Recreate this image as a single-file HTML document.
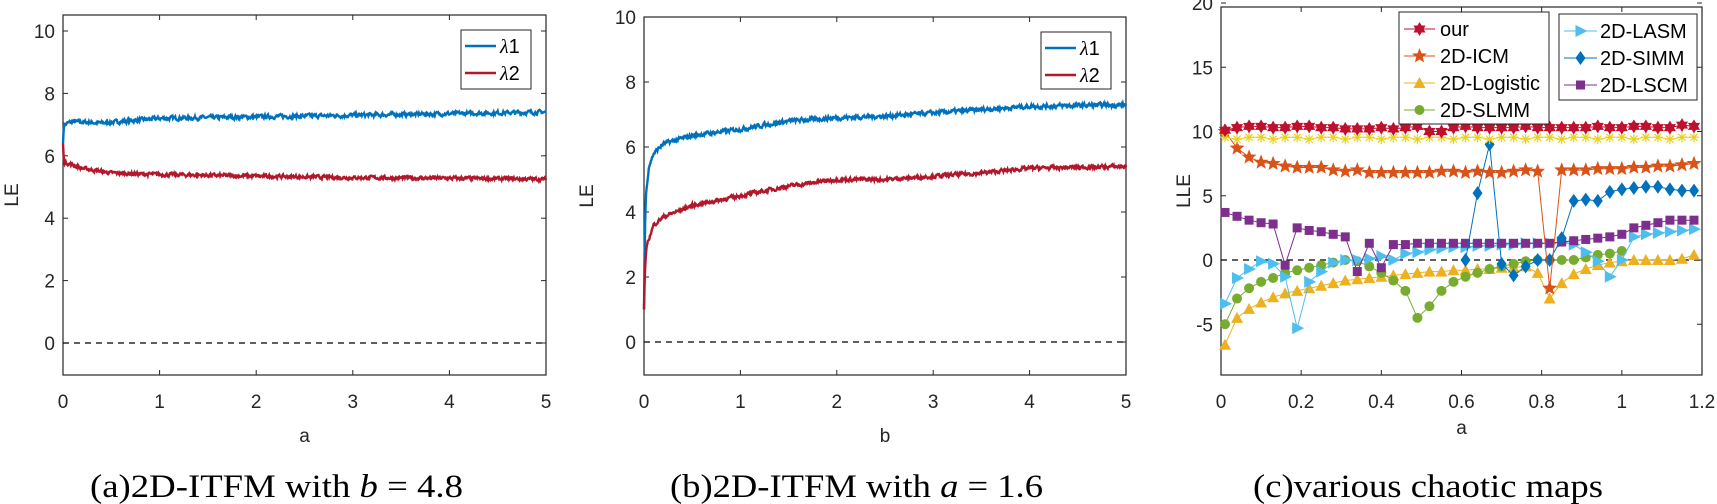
<!DOCTYPE html>
<html><head><meta charset="utf-8"><style>
html,body{margin:0;padding:0;background:#fff;}
svg{display:block;font-family:"Liberation Sans",sans-serif;}
.t{font-size:19px;fill:#262626;}
.lg{font-size:20px;fill:#000;}
.cap{font-family:"Liberation Serif",serif;font-size:33px;fill:#000;}
</style></head><body>
<svg id="s" width="1717" height="504" viewBox="0 0 1717 504" xmlns="http://www.w3.org/2000/svg"></svg>
<script>
const S=document.getElementById('s');let h='';
let seed=7;function rnd(){seed=(seed*16807)%2147483647;return seed/2147483647;}
function axes(L,R,T,B,xt,yt,fx,fy,xlab,ylab,ylx){
 h+=`<rect x="${L}" y="${T}" width="${R-L}" height="${B-T}" fill="#fff" stroke="#262626" stroke-width="1.2"/>`;
 xt.forEach(v=>{const x=fx(v);h+=`<line x1="${x}" y1="${B}" x2="${x}" y2="${B-5}" stroke="#262626"/><line x1="${x}" y1="${T}" x2="${x}" y2="${T+5}" stroke="#262626"/><text class="t" x="${x}" y="${B+33}" text-anchor="middle">${v}</text>`;});
 yt.forEach(v=>{const y=fy(v);h+=`<line x1="${L}" y1="${y}" x2="${L+5}" y2="${y}" stroke="#262626"/><line x1="${R}" y1="${y}" x2="${R-5}" y2="${y}" stroke="#262626"/><text class="t" x="${L-8}" y="${y+7}" text-anchor="end">${v}</text>`;});
 h+=`<text class="t" x="${(L+R)/2}" y="${B+67}" text-anchor="middle">${xlab}</text>`;
 h+=`<text class="t" font-size="20" transform="translate(${ylx},${(T+B)/2}) rotate(-90)" text-anchor="middle">${ylab}</text>`;
 h+=`<line x1="${L}" y1="${fy(0)}" x2="${R}" y2="${fy(0)}" stroke="#000" stroke-width="1.2" stroke-dasharray="6,5"/>`;
}
function interp(pts){return x=>{for(let i=1;i<pts.length;i++){if(x<=pts[i][0]){const a=pts[i-1],b=pts[i];return a[1]+(b[1]-a[1])*(x-a[0])/(b[0]-a[0]);}}return pts[pts.length-1][1];};}
function noisy(fx,fy,f,xmax,col,amp){let p=[];const N=900;let prev=0;for(let i=0;i<=N;i++){const x=xmax*i/N;prev=prev*0.5+(rnd()-0.5)*amp;p.push(fx(x).toFixed(1)+','+fy(f(x)+(i<3?0:prev)).toFixed(1));}
 h+=`<polyline points="${p.join(' ')}" fill="none" stroke="${col}" stroke-width="2.4"/>`;}
function legend2(x,y,w,hh,items){h+=`<rect x="${x}" y="${y}" width="${w}" height="${hh}" fill="#fff" stroke="#262626"/>`;
 items.forEach((it,i)=>{const yy=y+16+i*27;h+=`<line x1="${x+4}" y1="${yy}" x2="${x+35}" y2="${yy}" stroke="${it[1]}" stroke-width="2.5"/><text class="lg" x="${x+39}" y="${yy+7}"><tspan font-family="Liberation Serif" font-style="italic">λ</tspan>${it[0]}</text>`;});}
// Panel a
{const L=63,R=546,T=15,B=375;const fx=v=>L+(v/5)*(R-L);const fy=v=>343-v*31.2;
axes(L,R,T,B,[0,1,2,3,4,5],[0,2,4,6,8,10],fx,fy,'a','LE',18);
noisy(fx,fy,interp([[0,6.4],[0.01,7.0],[0.1,7.1],[0.4,7.05],[1,7.2],[2,7.25],[3,7.3],[4,7.35],[5,7.4]]),5,'#0072BD',0.1);
noisy(fx,fy,interp([[0,6.4],[0.01,5.8],[0.2,5.6],[0.5,5.45],[1,5.4],[2,5.35],[3,5.3],[4,5.28],[5,5.25]]),5,'#B2182B',0.09);
legend2(461,30,70,59,[['1','#0072BD'],['2','#B2182B']]);}
// Panel b
{const L=644,R=1126,T=17,B=375;const fx=v=>L+(v/5)*(R-L);const fy=v=>342-v*32.5;
axes(L,R,T,B,[0,1,2,3,4,5],[0,2,4,6,8,10],fx,fy,'b','LE',593);
noisy(fx,fy,interp([[0,1],[0.01,3.5],[0.02,4.5],[0.05,5.4],[0.1,5.8],[0.2,6.1],[0.5,6.35],[1,6.55],[1.5,6.8],[2,6.9],[2.5,6.95],[3,7.05],[3.5,7.15],[4,7.25],[5,7.3]]),5,'#0072BD',0.1);
noisy(fx,fy,interp([[0,1],[0.01,2.2],[0.03,3.0],[0.1,3.6],[0.2,3.85],[0.5,4.2],[1,4.5],[1.5,4.8],[2,5.0],[2.5,5.0],[3,5.1],[3.5,5.2],[4,5.35],[5,5.4]]),5,'#B2182B',0.09);
legend2(1041,32,70,57,[['1','#0072BD'],['2','#B2182B']]);}
// Panel c
{const L=1221,R=1702,T=7,B=375;const fx=v=>L+(v/1.2)*(R-L);const fy=v=>260-v*12.85;
h+=`<rect x="${L}" y="${T}" width="${R-L}" height="${B-T}" fill="#fff" stroke="#262626" stroke-width="1.2"/>`;
[0,0.2,0.4,0.6,0.8,1,1.2].forEach(v=>{const x=fx(v);h+=`<line x1="${x}" y1="${B}" x2="${x}" y2="${B-5}" stroke="#262626"/><line x1="${x}" y1="${T}" x2="${x}" y2="${T+5}" stroke="#262626"/><text class="t" x="${x}" y="${B+33}" text-anchor="middle">${v}</text>`;});
[-5,0,5,10,15,20].forEach(v=>{const y=fy(v);h+=`<line x1="${L}" y1="${y}" x2="${L+5}" y2="${y}" stroke="#262626"/><line x1="${R}" y1="${y}" x2="${R-5}" y2="${y}" stroke="#262626"/><text class="t" x="${L-8}" y="${y+7}" text-anchor="end">${v}</text>`;});
h+=`<text class="t" x="${(L+R)/2}" y="${B+59}" text-anchor="middle">a</text><text class="t" font-size="20" transform="translate(1190,${(T+B)/2}) rotate(-90)" text-anchor="middle">LLE</text>`;
h+=`<line x1="${L}" y1="${fy(0)}" x2="${R}" y2="${fy(0)}" stroke="#000" stroke-width="1.2" stroke-dasharray="6,5"/>`;
const X=i=>fx(0.01+0.03*i);
function star(cx,cy,r,n,ri){let p=[];for(let k=0;k<2*n;k++){const a=-Math.PI/2+k*Math.PI/n;const rr=k%2?ri:r;p.push((cx+rr*Math.cos(a)).toFixed(1)+','+(cy+rr*Math.sin(a)).toFixed(1));}return p.join(' ');}
function mk(type,x,y,c){switch(type){
 case 'hex':return `<polygon points="${star(x,y,6,6,3.5)}" fill="${c}" stroke="${c}"/>`;
 case 'pent':return `<polygon points="${star(x,y,6.5,5,2.8)}" fill="${c}" stroke="${c}"/>`;
 case 'tri':return `<polygon points="${x},${y-6} ${x+6},${y+5} ${x-6},${y+5}" fill="${c}"/>`;
 case 'rtri':return `<polygon points="${x+7},${y} ${x-5},${y-6} ${x-5},${y+6}" fill="${c}"/>`;
 case 'circ':return `<circle cx="${x}" cy="${y}" r="5" fill="${c}"/>`;
 case 'dia':return `<polygon points="${x},${y-7} ${x+5},${y} ${x},${y+7} ${x-5},${y}" fill="${c}"/>`;
 case 'sq':return `<rect x="${x-4.5}" y="${y-4.5}" width="9" height="9" fill="${c}"/>`;
 case 'ast':return `<path d="M${x-5} ${y}H${x+5}M${x} ${y-5}V${y+5}M${x-3.5} ${y-3.5}L${x+3.5} ${y+3.5}M${x-3.5} ${y+3.5}L${x+3.5} ${y-3.5}" stroke="${c}" stroke-width="1.2"/>`;}}
function series(vals,type,c,start){start=start||0;let p=[],m='';vals.forEach((v,k)=>{const x=X(k+start),y=fy(v);p.push(x.toFixed(1)+','+y.toFixed(1));m+=mk(type,x,y,c);});h+=`<polyline points="${p.join(' ')}" fill="none" stroke="${c}" stroke-width="1"/>`+m;}
const ast=[];for(let i=0;i<40;i++)ast.push(9.5+(i%3==1?-0.1:0.05));
const our=[10.1,10.3,10.4,10.4,10.3,10.3,10.4,10.4,10.3,10.3,10.2,10.2,10.2,10.3,10.2,10.3,10.4,10.0,10.0,10.3,10.4,10.3,10.3,10.3,10.3,10.4,10.3,10.3,10.3,10.3,10.3,10.4,10.3,10.3,10.4,10.4,10.3,10.3,10.5,10.4];
const icm=[10,8.7,8.0,7.6,7.5,7.3,7.2,7.2,7.2,7.0,6.9,7.0,6.8,6.8,6.8,6.8,6.8,6.8,6.9,6.9,6.8,6.9,6.8,6.8,6.9,7.0,6.9,-2.2,7.0,7.0,7.0,7.1,7.1,7.1,7.2,7.2,7.3,7.3,7.4,7.5];
const lsc=[3.7,3.4,3.1,2.9,2.8,-0.4,2.5,2.3,2.2,2.0,1.8,-0.9,1.3,-0.6,1.2,1.2,1.3,1.3,1.3,1.3,1.3,1.3,1.3,1.3,1.3,1.3,1.3,1.3,1.4,1.5,1.6,1.7,1.8,2.0,2.5,2.7,2.9,3.1,3.1,3.1];
const las=[-3.4,-1.4,-0.7,-0.1,-0.3,-1.3,-5.3,-1.7,-0.9,-0.2,0,0,0.1,0.3,0,0.5,0.6,0.8,0.9,1.0,1.0,1.1,1.1,1.2,1.2,1.3,1.3,1.3,1.4,1.2,0.6,-0.1,-1.3,0,1.8,2.0,2.1,2.2,2.3,2.4];
const sim=[0,5.2,9.0,-0.3,-1.2,-0.5,0,0,1.7,4.6,4.7,4.6,5.3,5.5,5.6,5.7,5.7,5.5,5.4,5.4];
const slm=[-5,-3,-2.2,-1.7,-1.4,-1.0,-0.8,-0.6,-0.4,-0.2,0,-0.1,-0.5,-1.0,-1.6,-2.4,-4.5,-3.6,-2.4,-1.7,-1.3,-1.0,-0.7,-0.5,-0.3,-0.1,0,0,0,0,0.2,0.4,0.5,0.7];
const lgs=[-6.6,-4.5,-3.8,-3.3,-2.9,-2.6,-2.4,-2.2,-2.0,-1.8,-1.6,-1.5,-1.4,-1.3,-1.2,-1.1,-1.0,-0.9,-0.9,-0.8,-0.8,-0.7,-0.7,-0.6,-0.6,-0.5,-1.0,-3.0,-1.8,-1.1,-0.7,-0.4,-0.2,-0.1,0,0,0,0,0.1,0.4];
series(lgs,'tri','#EDB120');series(slm,'circ','#77AC30');series(las,'rtri','#4DBEEE');series(lsc,'sq','#7E2F8E');series(sim,'dia','#0072BD',20);series(icm,'pent','#D95319');series(ast,'ast','#E8D21D');series(our,'hex','#C0102F');
h+=`<rect x="1399" y="12" width="150" height="112" fill="#fff" stroke="#262626"/>`;
[['our','hex','#C0102F'],['2D-ICM','pent','#D95319'],['2D-Logistic','tri','#EDB120'],['2D-SLMM','circ','#77AC30']].forEach((it,i)=>{const y=29+i*27;h+=`<line x1="1404" y1="${y}" x2="1435" y2="${y}" stroke="${it[2]}"/>`+mk(it[1],1419.5,y,it[2])+`<text class="lg" x="1440" y="${y+7}">${it[0]}</text>`;});
h+=`<rect x="1559" y="14" width="138" height="86" fill="#fff" stroke="#262626"/>`;
[['2D-LASM','rtri','#4DBEEE'],['2D-SIMM','dia','#0072BD'],['2D-LSCM','sq','#7E2F8E']].forEach((it,i)=>{const y=31+i*27;h+=`<line x1="1564" y1="${y}" x2="1597" y2="${y}" stroke="${it[2]}"/>`+mk(it[1],1580.5,y,it[2])+`<text class="lg" x="1600" y="${y+7}">${it[0]}</text>`;});
}
h+=`<text class="cap" x="90" y="497" textLength="373" lengthAdjust="spacingAndGlyphs">(a)2D-ITFM with <tspan font-style="italic">b</tspan> = 4.8</text>`;
h+=`<text class="cap" x="670" y="497" textLength="373" lengthAdjust="spacingAndGlyphs">(b)2D-ITFM with <tspan font-style="italic">a</tspan> = 1.6</text>`;
h+=`<text class="cap" x="1253" y="497" textLength="350" lengthAdjust="spacingAndGlyphs">(c)various chaotic maps</text>`;
S.innerHTML=h;
</script>
</body></html>
